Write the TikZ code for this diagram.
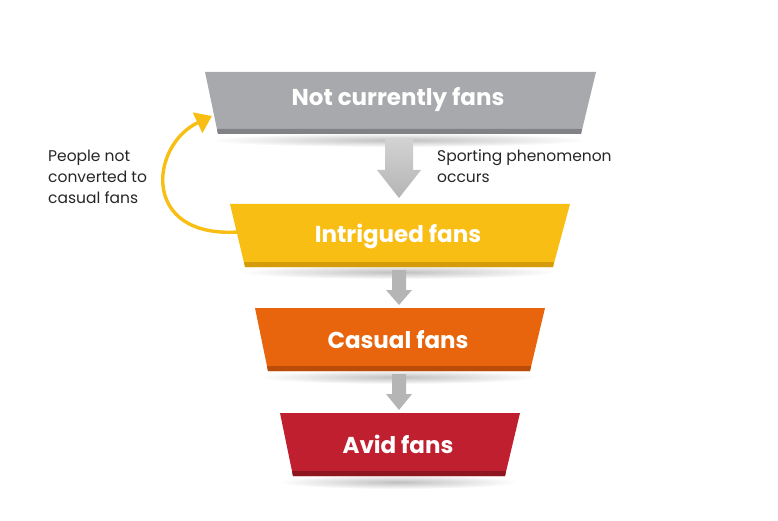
\documentclass[tikz,border=0pt]{standalone}
\usepackage{fontspec}
\setmainfont{Poppins}
\usetikzlibrary{arrows.meta}
\definecolor{cgray}{HTML}{A7A9AC}
\definecolor{cgrayd}{HTML}{808285}
\definecolor{cyel}{HTML}{F9BE14}
\definecolor{cyeld}{HTML}{D49B0A}
\definecolor{corg}{HTML}{E8650E}
\definecolor{corgd}{HTML}{B84C08}
\definecolor{cred}{HTML}{C01F2F}
\definecolor{credd}{HTML}{8E1621}
\definecolor{carr}{HTML}{B5B5B5}
\begin{document}
\begin{tikzpicture}[x=1pt,y=-1pt,
  lbl/.style={text=white,font=\bfseries\fontsize{23}{27}\selectfont},
  note/.style={font=\fontsize{15.5}{21}\selectfont,align=left,anchor=north west,text=black!85,inner sep=0pt},
  garrow/.style={fill=carr}]
\useasboundingbox (0,0) rectangle (778,521);
% shadows
\foreach \y/\w in {140/190,272/160,377/140,482/120}
  \shade[inner color=black!25,outer color=white] (398,\y) ellipse ({\w} and 7);
% trapezoids
\newcommand{\trap}[8]{%
  \fill[#7] (#1,#5) -- (#2,#5) -- (#4,#6) -- (#3,#6) -- cycle;
  \fill[#8] ({#3-1},{#6-5}) -- ({#4+1},{#6-5}) -- (#4,#6) -- (#3,#6) -- cycle;}
\trap{205}{596}{218}{581}{72}{134}{cgray}{cgrayd}
\trap{230}{570}{245}{553}{204}{267}{cyel}{cyeld}
\trap{255}{545}{268}{530}{308}{371}{corg}{corgd}
\trap{280}{520}{293}{505}{413}{476}{cred}{credd}
\node[lbl] (n1) at (398,100) {Not currently fans};
\node[lbl] (n2) at (398,236) {Intrigued fans};
\node[lbl] (n3) at (398,340) {Casual fans};
\node[lbl] (n4) at (398,444) {Avid fans};
% gray arrows
\shade[top color=carr!60,bottom color=carr] (385,138) -- (413,138) -- (413,170) -- (421,170) -- (399,198) -- (377,170) -- (385,170) -- cycle;
\fill[carr] (392,270) -- (406,270) -- (406,290) -- (412,290) -- (399,305) -- (386,290) -- (392,290) -- cycle;
\fill[carr] (392,374) -- (406,374) -- (406,394) -- (412,394) -- (399,410) -- (386,394) -- (392,394) -- cycle;
% curved arrow
\coordinate (cs) at (238,232);
\coordinate (ce) at (212,116);
\draw[cyel,line width=3.4pt,-{Triangle[length=16pt,width=22pt]}] (cs) .. controls (140,238) and (150,145) .. (ce);
\node[note] (t1) at (48,150) {People not\\converted to\\casual fans};
\node[note] (t2) at (437,150) {Sporting phenomenon\\occurs};
\end{tikzpicture}
\end{document}
